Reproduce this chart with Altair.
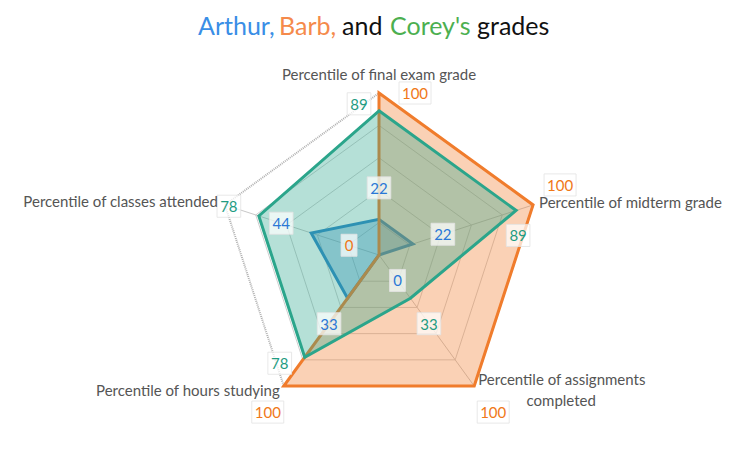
import altair as alt
import pandas as pd
import numpy as np

# data
axes = ["Percentile of final exam grade", "Percentile of midterm grade",
        "Percentile of assignments completed", "Percentile of hours studying",
        "Percentile of classes attended"]
people = ["Arthur", "Barb", "Corey"]
arthur = [22, 22, 0, 33, 44]
barb = [100, 100, 100, 100, 0]
corey = [89, 89, 33, 78, 78]
grid_levels = [20, 40, 60, 80, 100]

line_colors = {"Arthur": "#2f86c8", "Barb": "#f07c2c", "Corey": "#2ba58b"}
text_colors = {"Arthur": "#2a78d6", "Barb": "#f07818", "Corey": "#1f9c82"}
FONT = "Lato"

# layout: px per percentile point, plot size, centre of the web
K = 1.62
W, H = 734, 435
CX, CY = 371, 247
xdom = [-CX / K, (W - CX) / K]
ydom = [-(H - CY) / K, CY / K]

scores = pd.DataFrame({
    "person": np.repeat(people, 5),
    "idx": list(range(5)) * 3,
    "value": arthur + barb + corey,
})
scores["axis"] = [axes[i] for i in scores["idx"]]

# value labels sit 31px outward on their spoke, some are pushed aside (screen px)
nudges = {("Barb", 0): (36, 0), ("Barb", 1): (27, -20), ("Barb", 2): (19, 26),
          ("Barb", 3): (-16, 26), ("Corey", 0): (-20, -7), ("Corey", 1): (2, 25),
          ("Corey", 3): (-25, 6)}
ang = scores["idx"] * 2 * np.pi / 5
scores["ox"] = 31.5 * np.sin(ang)
scores["oy"] = 31.5 * np.cos(ang)
for (p, i), (nx, ny) in nudges.items():
    m = (scores["person"] == p) & (scores["idx"] == i)
    scores.loc[m, "ox"] = nx
    scores.loc[m, "oy"] = -ny
scores["digits"] = scores["value"].astype(str).str.len().astype(str)

grid = pd.DataFrame([(lv, i) for lv in grid_levels for i in range(5)], columns=["value", "idx"])
spokes = pd.DataFrame({"idx": list(range(5)), "value": [100] * 5})

X = lambda f: alt.X(f, type="quantitative", scale=alt.Scale(domain=xdom, nice=False, zero=False), axis=None)
Y = lambda f: alt.Y(f, type="quantitative", scale=alt.Scale(domain=ydom, nice=False, zero=False), axis=None)


def polar(ch):
    return ch.transform_calculate(
        a="datum.idx * 2 * PI / 5",
    ).transform_calculate(
        x="datum.value * sin(datum.a)", y="datum.value * cos(datum.a)"
    )


rings = polar(alt.Chart(grid)).transform_filter("datum.value < 100").mark_line(
    interpolate="linear-closed", stroke="#cfcfcf", strokeWidth=1
).encode(x=X("x"), y=Y("y"), detail="value:N", order="idx:Q")

outer = polar(alt.Chart(grid)).transform_filter("datum.value == 100").mark_line(
    interpolate="linear-closed", stroke="#b0b0b0", strokeWidth=2, strokeDash=[1, 1]
).encode(x=X("x"), y=Y("y"), order="idx:Q")

spoke = polar(alt.Chart(spokes)).transform_calculate(x0="0", y0="0").mark_rule(
    stroke="#c8c8c8", strokeWidth=1
).encode(x=X("x0"), y=Y("y0"), x2="x:Q", y2="y:Q")

polys = []
for p in ["Arthur", "Barb", "Corey"]:
    polys.append(
        polar(alt.Chart(scores)).transform_filter(f"datum.person == '{p}'").mark_line(
            interpolate="linear-closed", stroke=line_colors[p], strokeWidth=3,
            fill=line_colors[p], fillOpacity=0.35
        ).encode(x=X("x"), y=Y("y"), order="idx:Q")
    )

lab = polar(alt.Chart(scores)).transform_calculate(
    lx=f"datum.x + datum.ox / {K}", ly=f"datum.y + datum.oy / {K}"
)
box_paths = ["M-0.5,-0.69L0.5,-0.69L0.5,0.69L-0.5,0.69Z",
             "M-0.74,-0.69L0.74,-0.69L0.74,0.69L-0.74,0.69Z",
             "M-1,-0.69L1,-0.69L1,0.69L-1,0.69Z"]
boxes = lab.mark_point(filled=True, fill="white", fillOpacity=0.72, stroke="#e2e2e2",
                       strokeWidth=0.8, size=1024, opacity=1).encode(
    x=X("lx"), y=Y("ly"),
    shape=alt.Shape("digits:N", scale=alt.Scale(domain=["1", "2", "3"], range=box_paths), legend=None),
)
texts = []
for p in people:
    texts.append(
        lab.transform_filter(f"datum.person == '{p}'").mark_text(
            font=FONT, fontSize=15, color=text_colors[p], baseline="middle", dy=1
        ).encode(x=X("lx"), y=Y("ly"), text="value:Q")
    )

# axis titles, anchored at the 100 vertex of each spoke
axis_layout = [
    (0, "Percentile of final exam grade", "center", 0, -18),
    (1, "Percentile of midterm grade", "left", 6, -2),
    (2, "Percentile of assignments", "left", 4, -6),
    (2, "completed", "center", 87, 15),
    (3, "Percentile of hours studying", "right", -4, 5),
    (4, "Percentile of classes attended", "right", -7, -3),
]
axis_titles = []
for i, t, al, dx, dy in axis_layout:
    axis_titles.append(
        polar(alt.Chart(pd.DataFrame({"idx": [i], "value": [100], "t": [t]}))).mark_text(
            font=FONT, fontSize=15, color="#555555", align=al, baseline="middle", dx=dx, dy=dy
        ).encode(x=X("x"), y=Y("y"), text="t:N")
    )

# multi-coloured title
title_parts = [("Arthur,", "#3a8ee6", 190), ("Barb,", "#f58a4b", 271), ("and", "#111111", 334),
               ("Corey's", "#4caf50", 382), ("grades", "#111111", 469)]
title_layers = []
for t, c, px in title_parts:
    title_layers.append(
        alt.Chart(pd.DataFrame({"t": [t]})).mark_text(
            font=FONT, fontSize=25, color=c, align="left", baseline="alphabetic"
        ).encode(x=alt.value(px), y=alt.value(27), text="t:N")
    )

chart = alt.layer(
    rings, outer, spoke, *polys, boxes, *texts, *axis_titles, *title_layers
).properties(
    width=W, height=H, autosize=alt.AutoSizeParams(type="none"), padding=0
).configure_view(stroke=None)

chart.save("out.html", embed_options={"renderer": "svg", "actions": False})
